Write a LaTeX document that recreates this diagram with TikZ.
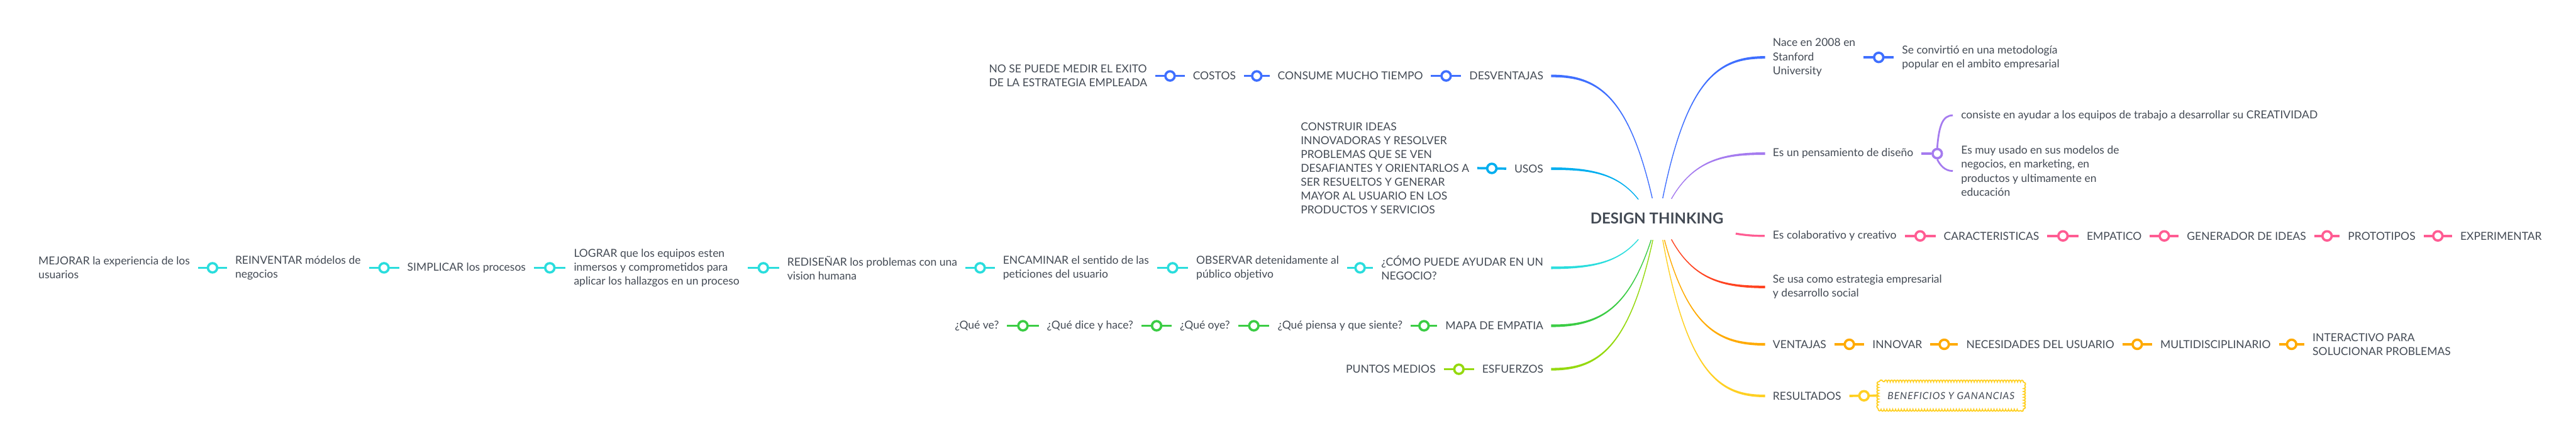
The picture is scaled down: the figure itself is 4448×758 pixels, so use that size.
\documentclass[tikz,border=0pt]{standalone}
\usepackage{fontspec}
\setmainfont{Lato}
\usetikzlibrary{calc,decorations.pathmorphing}
\definecolor{txtColor}{HTML}{434A54}
\definecolor{blueColor}{HTML}{3F6FFF}
\definecolor{skyColor}{HTML}{00AEEF}
\definecolor{purpleColor}{HTML}{A57BEF}
\definecolor{cyanColor}{HTML}{2ADDDD}
\definecolor{greenColor}{HTML}{3BCC44}
\definecolor{limeColor}{HTML}{95D90F}
\definecolor{pinkColor}{HTML}{FF5C93}
\definecolor{redColor}{HTML}{FF4320}
\definecolor{orangeColor}{HTML}{FFAA00}
\definecolor{yellowColor}{HTML}{FFD023}
\tikzset{
	topic/.style={inner xsep=14pt,inner ysep=0pt,align=left,text=txtColor,font=\fontsize{19}{24}\selectfont},
	topicL/.style={topic,anchor=east},
	topicR/.style={topic,anchor=west},
	hub/.style={circle,draw,fill=white,line width=4pt,inner sep=0pt,minimum size=16pt},
	stub/.style={line width=4pt}
}
% tapered limb from the centre out to a topic
\newcommand{\branch}[3]{
	\coordinate (c1) at ($(#2)!.85!($(#2 |- #3)!.28!(#3)$)$);
	\coordinate (c2) at ($(#2 |- #3)!.55!(#3)$);
	\filldraw[#1,line width=1.5pt] (#2) .. controls (c1) and ($(c2)+(0,-1)$) .. ($(#3)+(0,-1.5)$) -- ($(#3)+(0,1.5)$) .. controls ($(c2)+(0,1)$) and (c1) .. (#2);
}
\newcommand{\link}[3]{\path[draw=#1,stub] (#2.east) -- node[hub,draw=#1] (h#2) {} (#3.west);}

\begin{document}
\begin{tikzpicture}[x=1pt,y=-1pt]
	\useasboundingbox (0,0) rectangle (4448,758);
	\node[inner sep=0pt,text=txtColor,font=\fontsize{26}{28}\selectfont\bfseries] (root) at (2861,377) {DESIGN THINKING};

	% start points of the limbs
	\coordinate (rBlueL) at (2853,342);
	\coordinate (rBlueR) at (2871,342);
	\coordinate (rSky) at (2829,344);
	\coordinate (rPurple) at (2886,343);
	\coordinate (rCyan) at (2829,413);
	\coordinate (rGreen) at (2851,414);
	\coordinate (rLime) at (2854,414);
	\coordinate (rRed) at (2886,413);
	\coordinate (rOrange) at (2874,414);
	\coordinate (rYellow) at (2871,414);
	\coordinate (rPink) at (2997,403);

	% right side
	\node[topicR] (nace) at (3047,99) {Nace en 2008 en\\Stanford\\University};
	\node[topicR] (convirtio) at (3270,99) {Se convirtió en una metodología\\popular en el ambito empresarial};
	\branch{blueColor}{rBlueR}{nace.west}
	\link{blueColor}{nace}{convirtio}

	\node[topicR] (pensamiento) at (3047,265) {Es un pensamiento de diseño};
	\node[hub,draw=purpleColor] (hPensamiento) at (3345,265) {};
	\node[topicR] (consiste) at (3372,199) {consiste en ayudar a los equipos de trabajo a desarrollar su CREATIVIDAD};
	\node[topicR] (usado) at (3372,295) {Es muy usado en sus modelos de\\negocios, en marketing, en\\productos y ultimamente en\\educación};
	\branch{purpleColor}{rPurple}{pensamiento.west}
	\draw[purpleColor,stub] (pensamiento.east) -- (hPensamiento.west);
	\draw[purpleColor,line width=3pt] (hPensamiento.north) .. controls (3348,215) and (3355,199) .. (consiste.west);
	\draw[purpleColor,line width=3pt] (hPensamiento.south) .. controls (3350,285) and (3358,295) .. (usado.west);

	\node[topicR] (colaborativo) at (3047,407) {Es colaborativo y creativo};
	\node[topicR] (caracteristicas) at (3342,407) {CARACTERISTICAS};
	\node[topicR] (empatico) at (3589,407) {EMPATICO};
	\node[topicR] (generador) at (3762,407) {GENERADOR DE IDEAS};
	\node[topicR] (prototipos) at (4040,407) {PROTOTIPOS};
	\node[topicR] (experimentar) at (4234,407) {EXPERIMENTAR};
	\draw[pinkColor,line width=3.5pt] (rPink) .. controls (3015,406) and (3030,407) .. (colaborativo.west);
	\link{pinkColor}{colaborativo}{caracteristicas}
	\link{pinkColor}{caracteristicas}{empatico}
	\link{pinkColor}{empatico}{generador}
	\link{pinkColor}{generador}{prototipos}
	\link{pinkColor}{prototipos}{experimentar}

	\node[topicR] (estrategia) at (3047,495) {Se usa como estrategia empresarial\\y desarrollo social};
	\branch{redColor}{rRed}{estrategia.west}

	\node[topicR] (ventajas) at (3047,594) {VENTAJAS};
	\node[topicR] (innovar) at (3219,594) {INNOVAR};
	\node[topicR] (necesidades) at (3381,594) {NECESIDADES DEL USUARIO};
	\node[topicR] (multi) at (3716,594) {MULTIDISCIPLINARIO};
	\node[topicR] (interactivo) at (3979,594) {INTERACTIVO PARA\\SOLUCIONAR PROBLEMAS};
	\branch{orangeColor}{rOrange}{ventajas.west}
	\link{orangeColor}{ventajas}{innovar}
	\link{orangeColor}{innovar}{necesidades}
	\link{orangeColor}{necesidades}{multi}
	\link{orangeColor}{multi}{interactivo}

	\node[topicR] (resultados) at (3047,683) {RESULTADOS};
	\node[minimum width=250pt,minimum height=47pt,inner sep=0pt,text=txtColor,font=\fontsize{17}{20}\selectfont\itshape] (ganancias) at (3369,682.5) {\addfontfeature{LetterSpace=6}BENEFICIOS Y GANANCIAS};
	\draw[yellowColor,line width=2pt,decorate,decoration={bumps,segment length=10pt,amplitude=3pt}] ($(ganancias.north west)+(10,0)$) -- ($(ganancias.north east)+(-10,0)$) .. controls (ganancias.north east) .. ($(ganancias.north east)+(0,10)$) -- ($(ganancias.south east)+(0,-10)$) .. controls (ganancias.south east) .. ($(ganancias.south east)+(-10,0)$) -- ($(ganancias.south west)+(10,0)$) .. controls (ganancias.south west) .. ($(ganancias.south west)+(0,-10)$) -- ($(ganancias.north west)+(0,10)$) .. controls (ganancias.north west) .. ($(ganancias.north west)+(10,0)$);
	\branch{yellowColor}{rYellow}{resultados.west}
	\link{yellowColor}{resultados}{ganancias}

	% left side
	\node[topicL] (medir) at (1995,131) {NO SE PUEDE MEDIR EL EXITO\\DE LA ESTRATEGIA EMPLEADA};
	\node[topicL] (costos) at (2148,131) {COSTOS};
	\node[topicL] (consume) at (2471,131) {CONSUME MUCHO TIEMPO};
	\node[topicL] (desventajas) at (2679,131) {DESVENTAJAS};
	\branch{blueColor}{rBlueL}{desventajas.east}
	\link{blueColor}{medir}{costos}
	\link{blueColor}{costos}{consume}
	\link{blueColor}{consume}{desventajas}

	\node[topicL] (construir) at (2551,290) {CONSTRUIR IDEAS\\INNOVADORAS Y RESOLVER\\PROBLEMAS QUE SE VEN\\DESAFIANTES Y ORIENTARLOS A\\SER RESUELTOS Y GENERAR\\MAYOR AL USUARIO EN LOS\\PRODUCTOS Y SERVICIOS};
	\node[topicL] (usos) at (2679,291) {USOS};
	\branch{skyColor}{rSky}{usos.east}
	\link{skyColor}{construir}{usos}

	\node[topicL] (mejorar) at (342,462) {MEJORAR la experiencia de los\\usuarios};
	\node[topicL] (reinventar) at (637,462) {REINVENTAR módelos de\\negocios};
	\node[topicL] (simplicar) at (922,462) {SIMPLICAR los procesos};
	\node[topicL] (lograr) at (1291,462) {LOGRAR que los equipos esten\\inmersos y comprometidos para\\aplicar los hallazgos en un proceso};
	\node[topicL] (redisenar) at (1667,462) {REDISEÑAR los problemas con una\\vision humana};
	\node[topicL] (encaminar) at (1998,462) {ENCAMINAR el sentido de las\\peticiones del usuario};
	\node[topicL] (observar) at (2326,462) {OBSERVAR detenidamente al\\público objetivo};
	\node[topicL] (como) at (2679,462) {¿CÓMO PUEDE AYUDAR EN UN\\NEGOCIO?};
	\branch{cyanColor}{rCyan}{como.east}
	\link{cyanColor}{mejorar}{reinventar}
	\link{cyanColor}{reinventar}{simplicar}
	\link{cyanColor}{simplicar}{lograr}
	\link{cyanColor}{lograr}{redisenar}
	\link{cyanColor}{redisenar}{encaminar}
	\link{cyanColor}{encaminar}{observar}
	\link{cyanColor}{observar}{como}

	\node[topicL] (ve) at (1739,562) {¿Qué ve?};
	\node[topicL] (dice) at (1971,562) {¿Qué dice y hace?};
	\node[topicL] (oye) at (2138,562) {¿Qué oye?};
	\node[topicL] (piensa) at (2436,562) {¿Qué piensa y que siente?};
	\node[topicL] (mapa) at (2679,562) {MAPA DE EMPATIA};
	\branch{greenColor}{rGreen}{mapa.east}
	\link{greenColor}{ve}{dice}
	\link{greenColor}{dice}{oye}
	\link{greenColor}{oye}{piensa}
	\link{greenColor}{piensa}{mapa}

	\node[topicL] (puntos) at (2493,637) {PUNTOS MEDIOS};
	\node[topicL] (esfuerzos) at (2679,637) {ESFUERZOS};
	\branch{limeColor}{rLime}{esfuerzos.east}
	\link{limeColor}{puntos}{esfuerzos}
\end{tikzpicture}
\end{document}
